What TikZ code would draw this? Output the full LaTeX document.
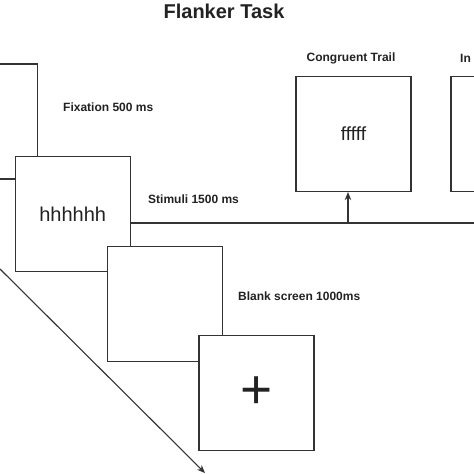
\documentclass[tikz,border=0pt]{standalone}
\usepackage{fontspec}
\setmainfont{Liberation Sans}
\usetikzlibrary{arrows.meta}
\definecolor{ink}{HTML}{222222}
\definecolor{edge}{HTML}{333333}
\tikzset{
  screen/.style={draw=edge, line width=1.2pt, fill=white, minimum width=115pt, minimum height=115pt, inner sep=0pt, text=ink},
  lbl/.style={font=\bfseries\fontsize{12}{14}\selectfont, text=ink, inner sep=0pt},
  conn/.style={draw=edge, line width=1.3pt},
  tip/.style={-{Stealth[length=8pt,width=6.5pt]}}
}
\begin{document}
\begin{tikzpicture}[x=1pt,y=-1pt]
\useasboundingbox[fill=white] (0,0) rectangle (474,474);
\node[font=\bfseries\fontsize{20}{24}\selectfont, text=ink, inner sep=0pt] (title) at (224,11) {Flanker Task};
% stacked screens
\node[screen] (b1) at (-19.7,121.5) {};
\node[screen, font=\fontsize{20}{24}\selectfont] (b2) at (72.7,214) {hhhhhh};
\node[screen] (b3) at (165,304) {};
\node[screen, font=\fontsize{55}{55}\selectfont] (b4) at (256.5,393) {+};
% labels
\node[lbl, anchor=west] (l1) at (63,107) {Fixation 500 ms};
\node[lbl, anchor=west] (l2) at (148,199) {Stimuli 1500 ms};
\node[lbl, anchor=west] (l3) at (238,296) {Blank screen 1000ms};
% trial screens
\node[screen, font=\fontsize{19}{22}\selectfont] (cong) at (353.5,134) {fffff};
\node[screen] (incong) at (508.5,134) {};
\node[lbl] (lc) at (351,58) {Congruent Trail};
\node[lbl, anchor=west] (li) at (460,58) {In};
% connectors
\coordinate (h0) at (130.6,223);
\coordinate (hend) at (474,223);
\coordinate (ha) at (348,223);
\draw[conn] (h0) -- (hend);
\draw[conn, tip] (ha) -- (ha |- cong.south);
\coordinate (d0) at (0,269);
\coordinate (d1) at (205,473);
\draw[draw=edge, line width=1.1pt, tip] (d0) -- (d1);
\end{tikzpicture}
\end{document}
